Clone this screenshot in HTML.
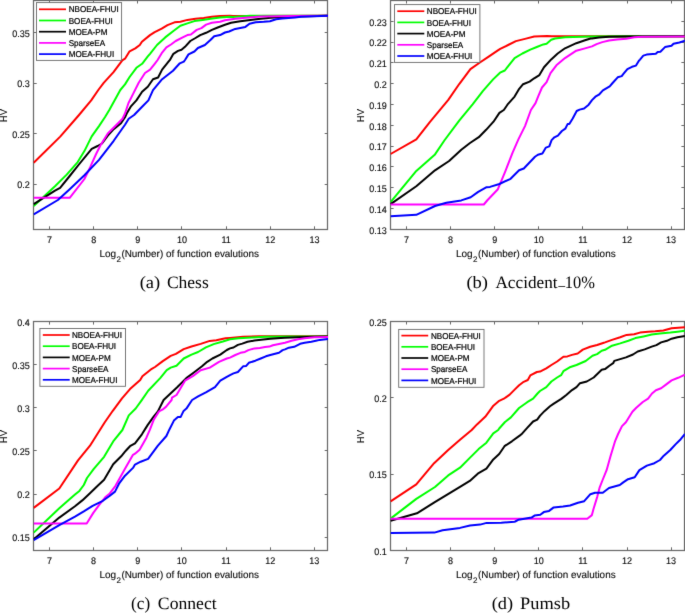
<!DOCTYPE html>
<html><head><meta charset="utf-8"><style>
html,body{margin:0;padding:0;background:#fff;}
body{width:685px;height:613px;overflow:hidden;}
svg{display:block;will-change:transform;}
text{text-rendering:geometricPrecision;}
.t{font-family:"Liberation Sans",sans-serif;fill:#0a0a0a;stroke:#0a0a0a;stroke-width:0.12px;}
.k{stroke-width:0.14px;}
.lg{stroke-width:0.22px;fill:#000;stroke:#000;}
.s{font-family:"Liberation Serif",serif;fill:#000;}
</style></head><body>
<svg width="685" height="613" viewBox="0 0 685 613">
<defs><filter id="sf" x="0" y="0" width="685" height="613" filterUnits="userSpaceOnUse" color-interpolation-filters="sRGB"><feConvolveMatrix order="3" kernelMatrix="0.01 0.1 0.01 0.1 1 0.1 0.01 0.1 0.01" edgeMode="duplicate"/></filter></defs>
<g filter="url(#sf)">
<rect width="685" height="613" fill="#fff"/>

<rect x="33.5" y="0.5" width="294" height="229" fill="none" stroke="#6a6a6a" stroke-width="1.25"/>
<path d="M49.5 229.3V226.3M49.5 0.5V3.5" stroke="#6a6a6a" stroke-width="1"/>
<text class="t k" transform="translate(49.5 243.4) scale(0.94 1)" font-size="9.6" text-anchor="middle">7</text>
<path d="M93.5 229.3V226.3M93.5 0.5V3.5" stroke="#6a6a6a" stroke-width="1"/>
<text class="t k" transform="translate(93.65 243.4) scale(0.94 1)" font-size="9.6" text-anchor="middle">8</text>
<path d="M137.5 229.3V226.3M137.5 0.5V3.5" stroke="#6a6a6a" stroke-width="1"/>
<text class="t k" transform="translate(137.8 243.4) scale(0.94 1)" font-size="9.6" text-anchor="middle">9</text>
<path d="M181.5 229.3V226.3M181.5 0.5V3.5" stroke="#6a6a6a" stroke-width="1"/>
<text class="t k" transform="translate(181.95 243.4) scale(0.94 1)" font-size="9.6" text-anchor="middle">10</text>
<path d="M226.5 229.3V226.3M226.5 0.5V3.5" stroke="#6a6a6a" stroke-width="1"/>
<text class="t k" transform="translate(226.1 243.4) scale(0.94 1)" font-size="9.6" text-anchor="middle">11</text>
<path d="M270.5 229.3V226.3M270.5 0.5V3.5" stroke="#6a6a6a" stroke-width="1"/>
<text class="t k" transform="translate(270.25 243.4) scale(0.94 1)" font-size="9.6" text-anchor="middle">12</text>
<path d="M314.5 229.3V226.3M314.5 0.5V3.5" stroke="#6a6a6a" stroke-width="1"/>
<text class="t k" transform="translate(314.4 243.4) scale(0.94 1)" font-size="9.6" text-anchor="middle">13</text>
<path d="M33.7 184.5H36.7M327.7 184.5H324.7" stroke="#6a6a6a" stroke-width="1"/>
<text class="t k" transform="translate(29.8 188.4) scale(0.94 1)" font-size="9.6" text-anchor="end">0.2</text>
<path d="M33.7 133.5H36.7M327.7 133.5H324.7" stroke="#6a6a6a" stroke-width="1"/>
<text class="t k" transform="translate(29.8 137.9) scale(0.94 1)" font-size="9.6" text-anchor="end">0.25</text>
<path d="M33.7 83.5H36.7M327.7 83.5H324.7" stroke="#6a6a6a" stroke-width="1"/>
<text class="t k" transform="translate(29.8 87.3) scale(0.94 1)" font-size="9.6" text-anchor="end">0.3</text>
<path d="M33.7 32.5H36.7M327.7 32.5H324.7" stroke="#6a6a6a" stroke-width="1"/>
<text class="t k" transform="translate(29.8 36.8) scale(0.94 1)" font-size="9.6" text-anchor="end">0.35</text>
<clipPath id="ca"><rect x="33.4" y="0.5" width="294.7" height="228.8"/></clipPath>
<g clip-path="url(#ca)" fill="none" stroke-width="2.0" stroke-linejoin="round" stroke-linecap="butt">
<polyline stroke="#ff0000" points="33.7,162.8 60.2,136.6 79,115 91.2,100.4 98.3,90 103.7,82.9 113.5,72.1 122.3,60.3 125,58.7 129.6,51.3 135.3,48.4 139.8,45 141.9,41.7 150,35.1 154.7,32.2 161.7,28.7 167.5,25.2 174.5,22.3 180.4,21.7 187.4,19.9 195.5,18.8 203.7,17.9 211.9,16.8 220.1,16.1 230,15.8 233,15.9 328,15.8"/>
<polyline stroke="#00ff00" points="33.7,206 55,186.3 66.7,174.6 77.7,162.1 84.4,151.1 91.7,136.4 99,126.1 104.9,117.3 109.3,110 120.3,90 125,84.4 129.6,77 136.4,67.8 142.1,63.8 147.8,56.4 150,53.8 157,45 165.2,37.4 173.4,31 180.4,25.8 187.4,23.4 194.4,21.1 202.6,19.9 210.7,18.8 220.1,17.6 230,16.8 233,16.9 249.9,15.8 328,15.8"/>
<polyline stroke="#000000" points="33.7,204.1 55,190.7 60.1,187.8 69.7,176 78.5,165 91.7,148.9 97.6,146 102,143.5 107.8,135.7 113.7,129.1 121,123.2 125,117.3 126.7,113.5 130.7,106.7 136.4,100.4 142.1,91.8 147.8,86.7 153,79.3 158.1,77.5 162.1,69.6 169.5,60.4 169.9,60 173.4,53.8 178,50.9 181.5,49.7 185,46.8 190.3,41 195.5,38 200.2,35.1 206.1,32.8 211.9,29.9 217.7,27.5 225,24.8 231.1,22.8 240.3,21.2 250.5,20 260.8,18.7 271,17.7 281.2,16.9 295,16.4 328,15.8"/>
<polyline stroke="#ff00ff" points="33.7,197.8 69.7,197.8 84.4,179 90.2,167.2 96.1,154 100.5,145.2 107.8,133.5 116.6,124.7 122.5,118.8 125,113.5 128.4,103.2 133,94.1 138.7,82.7 145,73 150.1,69.6 154.7,63.8 157.6,60 161.7,53.2 166.4,47.4 171,44.5 175.7,41 182.7,37.4 187.4,35.1 190.9,34.5 196.7,29.9 201.4,28.1 206.1,24.6 211.9,22.8 220.1,21.7 225,20.2 235.2,18.7 245.4,17.7 260.8,16.6 295,15.9 328,15.8"/>
<polyline stroke="#0000ff" points="33.7,214.4 57.9,200 69.7,189.2 84.4,175.3 99,159.9 113.7,140.8 125,124.7 128.7,118.8 134.1,115 142.1,106.7 148.4,100.4 153,90.1 161.5,79.8 173,70.7 179.8,63.3 183.8,61.6 185,60 188.5,54.4 194.4,51.5 197.9,48 204.9,45 210.7,39.8 214.2,36.3 220.1,35.1 225,32.5 229.1,31.5 235.2,28.9 240.3,27.9 245.4,26.9 249.5,23.8 255.7,22.3 263.8,21.8 270,21.2 276.1,19.2 282.2,18.4 295,17.4 301,16.8 328,15.8"/>
</g>
<text class="t" transform="translate(6.9 115.6) rotate(-90) scale(0.94 1)" font-size="10" text-anchor="middle">HV</text>
<text class="t" x="99.4" y="257.1" font-size="10">Log</text>
<text class="t" x="116.4" y="261.9" font-size="8">2</text>
<text class="t" x="121.4" y="257.1" font-size="10" textLength="137.6" lengthAdjust="spacingAndGlyphs">(Number) of function evalutions</text>
<rect x="36.5" y="2.6" width="85.1" height="57.8" fill="#fff" stroke="#6a6a6a" stroke-width="0.9"/>
<path d="M39 9.3H66" stroke="#ff0000" stroke-width="1.7"/>
<text class="t lg" transform="translate(68.7 12.4) scale(0.953 1)" font-size="8.5">NBOEA-FHUI</text>
<path d="M39 20.5H66" stroke="#00ff00" stroke-width="1.7"/>
<text class="t lg" transform="translate(68.7 23.6) scale(0.953 1)" font-size="8.5">BOEA-FHUI</text>
<path d="M39 31.7H66" stroke="#000000" stroke-width="1.7"/>
<text class="t lg" transform="translate(68.7 34.8) scale(0.953 1)" font-size="8.5">MOEA-PM</text>
<path d="M39 42.9H66" stroke="#ff00ff" stroke-width="1.7"/>
<text class="t lg" transform="translate(68.7 46) scale(0.953 1)" font-size="8.5">SparseEA</text>
<path d="M39 54.1H66" stroke="#0000ff" stroke-width="1.7"/>
<text class="t lg" transform="translate(68.7 57.2) scale(0.953 1)" font-size="8.5">MOEA-FHUI</text>
<text class="s" x="139.66" y="287.6" font-size="17.4" textLength="20.58" lengthAdjust="spacingAndGlyphs">(a)</text>
<text class="s" x="166.90" y="287.6" font-size="17.4" textLength="41.89" lengthAdjust="spacingAndGlyphs">Chess</text>
<rect x="390.5" y="0.5" width="294" height="229" fill="none" stroke="#6a6a6a" stroke-width="1.25"/>
<path d="M406.5 229.3V226.3M406.5 0.5V3.5" stroke="#6a6a6a" stroke-width="1"/>
<text class="t k" transform="translate(406.5 243.4) scale(0.94 1)" font-size="9.6" text-anchor="middle">7</text>
<path d="M450.5 229.3V226.3M450.5 0.5V3.5" stroke="#6a6a6a" stroke-width="1"/>
<text class="t k" transform="translate(450.6 243.4) scale(0.94 1)" font-size="9.6" text-anchor="middle">8</text>
<path d="M494.5 229.3V226.3M494.5 0.5V3.5" stroke="#6a6a6a" stroke-width="1"/>
<text class="t k" transform="translate(494.7 243.4) scale(0.94 1)" font-size="9.6" text-anchor="middle">9</text>
<path d="M538.5 229.3V226.3M538.5 0.5V3.5" stroke="#6a6a6a" stroke-width="1"/>
<text class="t k" transform="translate(538.8 243.4) scale(0.94 1)" font-size="9.6" text-anchor="middle">10</text>
<path d="M582.5 229.3V226.3M582.5 0.5V3.5" stroke="#6a6a6a" stroke-width="1"/>
<text class="t k" transform="translate(582.9 243.4) scale(0.94 1)" font-size="9.6" text-anchor="middle">11</text>
<path d="M627.5 229.3V226.3M627.5 0.5V3.5" stroke="#6a6a6a" stroke-width="1"/>
<text class="t k" transform="translate(627 243.4) scale(0.94 1)" font-size="9.6" text-anchor="middle">12</text>
<path d="M671.5 229.3V226.3M671.5 0.5V3.5" stroke="#6a6a6a" stroke-width="1"/>
<text class="t k" transform="translate(671.1 243.4) scale(0.94 1)" font-size="9.6" text-anchor="middle">13</text>
<path d="M390.6 229.5H393.6M684.4 229.5H681.4" stroke="#6a6a6a" stroke-width="1"/>
<text class="t k" transform="translate(386.7 233.5) scale(0.94 1)" font-size="9.6" text-anchor="end">0.13</text>
<path d="M390.6 208.5H393.6M684.4 208.5H681.4" stroke="#6a6a6a" stroke-width="1"/>
<text class="t k" transform="translate(386.7 212.7) scale(0.94 1)" font-size="9.6" text-anchor="end">0.14</text>
<path d="M390.6 187.5H393.6M684.4 187.5H681.4" stroke="#6a6a6a" stroke-width="1"/>
<text class="t k" transform="translate(386.7 191.9) scale(0.94 1)" font-size="9.6" text-anchor="end">0.15</text>
<path d="M390.6 166.5H393.6M684.4 166.5H681.4" stroke="#6a6a6a" stroke-width="1"/>
<text class="t k" transform="translate(386.7 171.1) scale(0.94 1)" font-size="9.6" text-anchor="end">0.16</text>
<path d="M390.6 146.5H393.6M684.4 146.5H681.4" stroke="#6a6a6a" stroke-width="1"/>
<text class="t k" transform="translate(386.7 150.3) scale(0.94 1)" font-size="9.6" text-anchor="end">0.17</text>
<path d="M390.6 125.5H393.6M684.4 125.5H681.4" stroke="#6a6a6a" stroke-width="1"/>
<text class="t k" transform="translate(386.7 129.5) scale(0.94 1)" font-size="9.6" text-anchor="end">0.18</text>
<path d="M390.6 104.5H393.6M684.4 104.5H681.4" stroke="#6a6a6a" stroke-width="1"/>
<text class="t k" transform="translate(386.7 108.7) scale(0.94 1)" font-size="9.6" text-anchor="end">0.19</text>
<path d="M390.6 83.5H393.6M684.4 83.5H681.4" stroke="#6a6a6a" stroke-width="1"/>
<text class="t k" transform="translate(386.7 87.9) scale(0.94 1)" font-size="9.6" text-anchor="end">0.2</text>
<path d="M390.6 62.5H393.6M684.4 62.5H681.4" stroke="#6a6a6a" stroke-width="1"/>
<text class="t k" transform="translate(386.7 67.1) scale(0.94 1)" font-size="9.6" text-anchor="end">0.21</text>
<path d="M390.6 42.5H393.6M684.4 42.5H681.4" stroke="#6a6a6a" stroke-width="1"/>
<text class="t k" transform="translate(386.7 46.3) scale(0.94 1)" font-size="9.6" text-anchor="end">0.22</text>
<path d="M390.6 21.5H393.6M684.4 21.5H681.4" stroke="#6a6a6a" stroke-width="1"/>
<text class="t k" transform="translate(386.7 25.5) scale(0.94 1)" font-size="9.6" text-anchor="end">0.23</text>
<clipPath id="cb"><rect x="390.3" y="0.5" width="294.5" height="228.8"/></clipPath>
<g clip-path="url(#cb)" fill="none" stroke-width="2.0" stroke-linejoin="round" stroke-linecap="butt">
<polyline stroke="#ff0000" points="390.6,154 416.3,139.4 430,121.9 448.3,99.9 459.4,83.8 470.4,69.1 479.9,62.5 488.7,56.6 497.5,50.7 500.2,48.9 508.1,45 515.9,41.1 525,38.9 534.2,36.5 547.2,36.1 551.9,36.2 685,36.2"/>
<polyline stroke="#00ff00" points="390.6,202.2 416.3,170.9 435,154.4 444.7,140 459.4,120.4 472.6,104.3 482.8,91.1 493.1,79.4 500,72.7 504.8,70.5 509.4,64.6 514.6,58.1 522.4,53.5 530.3,49.6 536.8,47 543.3,44.4 546.6,43.7 551.2,39.8 555.1,38.5 565,37.2 590,36.6 620,36.2 685,36.2"/>
<polyline stroke="#000000" points="390.6,204.1 416.3,186.3 435,170.3 449.1,161 461.3,149.7 470,143 478.8,137.2 486.1,129.8 493.5,121.7 499.4,112.9 503.8,110 508.1,103.8 514.6,96.6 519.2,88.8 523.1,84.2 529.6,81.6 534.2,78.3 539.4,75.1 544,67.2 551.2,59.4 557.7,53.5 565,48.3 576.3,43.2 585,40.3 590.6,38.5 592,38.4 598.9,37.5 609.1,36.7 626.3,36.4 685,36.3"/>
<polyline stroke="#ff00ff" points="390.6,204.5 483.8,204.5 487.6,200 497.9,189.2 505.2,171.6 512.6,152.6 518.4,139.4 525,126.1 530.9,110 535.5,103.1 538.1,96.6 542,87.5 546.6,82.2 550.5,73.1 556.4,65.3 565,58.1 576.3,50.7 585,48.4 592,46.4 596.6,44.1 602.3,42.1 609.1,40.5 617.1,39.6 626.3,38.7 634.3,37.3 642.3,36.7 685,36.6"/>
<polyline stroke="#0000ff" points="390.6,216.3 416.3,214.8 435,206 446.3,202.8 461.3,200.4 470.7,197.2 478.2,191.9 486.6,187.2 490,186.9 499.4,184 510.6,178.8 519.1,170.3 523.8,168.5 535,156.7 537.9,154.7 542.4,153.5 545.9,147.6 549.3,146.4 551.6,140.1 554.4,137.3 557.9,135.6 561.9,131 565.3,128.7 567.6,124.1 569.3,124.1 572.7,118.4 576.7,111 579.6,109.6 584.1,108.5 588.7,104.7 592,100.1 595.4,96.7 598.9,94.7 602.9,90.4 609.7,86.4 612.6,83 617.7,77.3 621.7,76.1 623.4,73.9 627.4,69.1 632,66.8 636,65.6 638.9,60.7 640,59.6 643.3,55.6 646.6,54.6 655.8,53.7 657.7,52 660.4,51.7 665,47.1 671.5,45.8 673.5,43.8 679.4,42.5 685,40.8"/>
</g>
<text class="t" transform="translate(363.6 115.6) rotate(-90) scale(0.94 1)" font-size="10" text-anchor="middle">HV</text>
<text class="t" x="456" y="257.1" font-size="10">Log</text>
<text class="t" x="473" y="261.9" font-size="8">2</text>
<text class="t" x="478" y="257.1" font-size="10" textLength="137.6" lengthAdjust="spacingAndGlyphs">(Number) of function evalutions</text>
<rect x="394.5" y="4.6" width="85.4" height="57.8" fill="#fff" stroke="#6a6a6a" stroke-width="0.9"/>
<path d="M397.3 11.2H424.3" stroke="#ff0000" stroke-width="1.7"/>
<text class="t lg" transform="translate(426.8 14.3) scale(0.953 1)" font-size="8.5">NBOEA-FHUI</text>
<path d="M397.3 22.4H424.3" stroke="#00ff00" stroke-width="1.7"/>
<text class="t lg" transform="translate(426.8 25.5) scale(0.953 1)" font-size="8.5">BOEA-FHUI</text>
<path d="M397.3 33.6H424.3" stroke="#000000" stroke-width="1.7"/>
<text class="t lg" transform="translate(426.8 36.7) scale(0.953 1)" font-size="8.5">MOEA-PM</text>
<path d="M397.3 44.8H424.3" stroke="#ff00ff" stroke-width="1.7"/>
<text class="t lg" transform="translate(426.8 47.9) scale(0.953 1)" font-size="8.5">SparseEA</text>
<path d="M397.3 56H424.3" stroke="#0000ff" stroke-width="1.7"/>
<text class="t lg" transform="translate(426.8 59.1) scale(0.953 1)" font-size="8.5">MOEA-FHUI</text>
<text class="s" x="466.46" y="287.5" font-size="17.4" textLength="21.59" lengthAdjust="spacingAndGlyphs">(b)</text>
<text class="s" x="495.43" y="287.5" font-size="17.4" textLength="62.13" lengthAdjust="spacingAndGlyphs">Accident</text>
<text class="s" x="564.82" y="287.5" font-size="17.4" textLength="30.12" lengthAdjust="spacingAndGlyphs">10%</text>
<rect x="558.3" y="286.2" width="6.9" height="0.75" fill="#000"/>
<rect x="33.5" y="321.5" width="294" height="229" fill="none" stroke="#6a6a6a" stroke-width="1.25"/>
<path d="M49.5 550.3V547.3M49.5 321.6V324.6" stroke="#6a6a6a" stroke-width="1"/>
<text class="t k" transform="translate(49.4 564.4) scale(0.94 1)" font-size="9.6" text-anchor="middle">7</text>
<path d="M93.5 550.3V547.3M93.5 321.6V324.6" stroke="#6a6a6a" stroke-width="1"/>
<text class="t k" transform="translate(93.55 564.4) scale(0.94 1)" font-size="9.6" text-anchor="middle">8</text>
<path d="M137.5 550.3V547.3M137.5 321.6V324.6" stroke="#6a6a6a" stroke-width="1"/>
<text class="t k" transform="translate(137.7 564.4) scale(0.94 1)" font-size="9.6" text-anchor="middle">9</text>
<path d="M181.5 550.3V547.3M181.5 321.6V324.6" stroke="#6a6a6a" stroke-width="1"/>
<text class="t k" transform="translate(181.85 564.4) scale(0.94 1)" font-size="9.6" text-anchor="middle">10</text>
<path d="M226.5 550.3V547.3M226.5 321.6V324.6" stroke="#6a6a6a" stroke-width="1"/>
<text class="t k" transform="translate(226 564.4) scale(0.94 1)" font-size="9.6" text-anchor="middle">11</text>
<path d="M270.5 550.3V547.3M270.5 321.6V324.6" stroke="#6a6a6a" stroke-width="1"/>
<text class="t k" transform="translate(270.15 564.4) scale(0.94 1)" font-size="9.6" text-anchor="middle">12</text>
<path d="M314.5 550.3V547.3M314.5 321.6V324.6" stroke="#6a6a6a" stroke-width="1"/>
<text class="t k" transform="translate(314.3 564.4) scale(0.94 1)" font-size="9.6" text-anchor="middle">13</text>
<path d="M33.7 321.5H36.7M327.7 321.5H324.7" stroke="#6a6a6a" stroke-width="1"/>
<text class="t k" transform="translate(29.8 325.8) scale(0.94 1)" font-size="9.6" text-anchor="end">0.4</text>
<path d="M33.7 364.5H36.7M327.7 364.5H324.7" stroke="#6a6a6a" stroke-width="1"/>
<text class="t k" transform="translate(29.8 368.9) scale(0.94 1)" font-size="9.6" text-anchor="end">0.35</text>
<path d="M33.7 407.5H36.7M327.7 407.5H324.7" stroke="#6a6a6a" stroke-width="1"/>
<text class="t k" transform="translate(29.8 412) scale(0.94 1)" font-size="9.6" text-anchor="end">0.3</text>
<path d="M33.7 450.5H36.7M327.7 450.5H324.7" stroke="#6a6a6a" stroke-width="1"/>
<text class="t k" transform="translate(29.8 455.1) scale(0.94 1)" font-size="9.6" text-anchor="end">0.25</text>
<path d="M33.7 494.5H36.7M327.7 494.5H324.7" stroke="#6a6a6a" stroke-width="1"/>
<text class="t k" transform="translate(29.8 498.2) scale(0.94 1)" font-size="9.6" text-anchor="end">0.2</text>
<path d="M33.7 537.5H36.7M327.7 537.5H324.7" stroke="#6a6a6a" stroke-width="1"/>
<text class="t k" transform="translate(29.8 541.3) scale(0.94 1)" font-size="9.6" text-anchor="end">0.15</text>
<clipPath id="cc"><rect x="33.4" y="321.6" width="294.7" height="228.7"/></clipPath>
<g clip-path="url(#cc)" fill="none" stroke-width="2.0" stroke-linejoin="round" stroke-linecap="butt">
<polyline stroke="#ff0000" points="33.7,507.9 59.3,488.5 78,460.4 90,445.7 96.9,434.8 104.8,422.3 112.8,410.8 122,398.3 130,389.1 140.2,380 142.4,376.3 151.8,368.8 155,367 162.8,361.1 170.7,355.9 175.9,353.9 183.7,349.1 191.5,346.5 200.7,343.9 209.8,340.9 216.3,340.2 225.5,338.3 230,337.9 243.1,336.7 258.9,336.3 328,336.3"/>
<polyline stroke="#00ff00" points="33.7,532.6 59.3,508.2 68.7,500 75,494.5 79.4,490.9 83.8,485 87,478 93.8,468.8 104.1,456.8 113.2,441.4 122.4,430 128.8,415.4 135.7,408.5 141.4,400.6 148.2,390.8 160.2,378.1 166.7,370.2 170.7,367.6 176.5,365.7 183.7,358.5 191.5,354.6 198.1,352 205.9,347.4 213.7,344.1 222.9,341.5 230,339.2 238.8,338.3 251.9,337.4 265,336.8 290,336.6 328,336.5"/>
<polyline stroke="#000000" points="33.7,539.2 59.3,517.6 75,506.3 82.3,500.4 89.7,493.4 98.5,485 104.1,479.7 113.2,464.3 121.2,456.3 125,451.7 126.5,450 130,446.2 135,443.4 141.9,434.3 147.6,425.1 153.3,417.1 157.9,411.4 163.6,400 168.1,395.7 177.2,387.2 186.3,378.1 194.2,372.2 202,366.3 207.2,361.8 212.4,358.5 220.3,354.6 226.8,350 230,348.4 233.5,347.5 237.9,344.9 242.3,343.6 247.5,341.8 254.5,340.5 263.3,339.6 270.3,338.8 280.8,337.9 285,337.8 298.1,337.2 314.6,336.7 328,336.6"/>
<polyline stroke="#ff00ff" points="33.7,523.5 86.7,523.5 93.3,512.9 99.2,504.8 105.8,496.7 109.8,493.4 115.5,485.8 125,468.8 133,454.8 135,453.7 139.6,449.7 146.4,437.7 149.9,429.7 153.9,419.4 159,411.4 162.4,409.7 165.9,406.9 171.6,400 172,397.6 176.5,395 185,380.7 192.8,376.1 200.7,370.2 209.8,367.6 219,361.8 226.8,358.5 230,357.6 235.3,355 240.5,352.8 244.9,351.9 248.4,350.1 254.5,348.4 259.8,348 265,347.1 269.4,346.6 272.9,345.3 279,344 285,342.8 291.6,340.8 298.1,339.2 304.7,338.2 314.6,337.2 328,336.9"/>
<polyline stroke="#0000ff" points="33.7,540.1 59.3,525.1 75,516.6 83.8,511.4 92.6,505.9 102.9,500.8 109.5,496 115,491.6 119,483.7 125,475.7 133,467.9 135,464.6 140.7,461.7 148.1,458.9 157.9,445.7 166.4,436 169.3,429.7 173.9,420.6 177.9,417.1 180.7,416.9 183.6,410.9 186.4,408.6 192.1,400 198.1,396.4 205.9,392.4 215,387.2 220.3,380.7 226.8,376.8 230,375.1 233.5,373.4 237.9,372 243.1,366.3 246.2,365.9 248.8,362.8 255.4,360.7 260.7,358.5 265.9,356.3 270.3,355 279,352.8 282.6,350.1 285,349.4 288.9,347.7 294.2,346.8 300.1,343.8 304.7,342.8 311.3,341.8 315.9,340.8 319.8,339.9 328,339.1"/>
</g>
<text class="t" transform="translate(6.9 436.6) rotate(-90) scale(0.94 1)" font-size="10" text-anchor="middle">HV</text>
<text class="t" x="99.4" y="578.4" font-size="10">Log</text>
<text class="t" x="116.4" y="583.2" font-size="8">2</text>
<text class="t" x="121.4" y="578.4" font-size="10" textLength="137.6" lengthAdjust="spacingAndGlyphs">(Number) of function evalutions</text>
<rect x="39.9" y="328.5" width="85.6" height="57.8" fill="#fff" stroke="#6a6a6a" stroke-width="0.9"/>
<path d="M42.8 335H69.7" stroke="#ff0000" stroke-width="1.7"/>
<text class="t lg" transform="translate(72 338.1) scale(0.953 1)" font-size="8.5">NBOEA-FHUI</text>
<path d="M42.8 346.2H69.7" stroke="#00ff00" stroke-width="1.7"/>
<text class="t lg" transform="translate(72 349.3) scale(0.953 1)" font-size="8.5">BOEA-FHUI</text>
<path d="M42.8 357.4H69.7" stroke="#000000" stroke-width="1.7"/>
<text class="t lg" transform="translate(72 360.5) scale(0.953 1)" font-size="8.5">MOEA-PM</text>
<path d="M42.8 368.6H69.7" stroke="#ff00ff" stroke-width="1.7"/>
<text class="t lg" transform="translate(72 371.7) scale(0.953 1)" font-size="8.5">SparseEA</text>
<path d="M42.8 379.8H69.7" stroke="#0000ff" stroke-width="1.7"/>
<text class="t lg" transform="translate(72 382.9) scale(0.953 1)" font-size="8.5">MOEA-FHUI</text>
<text class="s" x="131.11" y="608.7" font-size="17.4" textLength="19.07" lengthAdjust="spacingAndGlyphs">(c)</text>
<text class="s" x="157.89" y="608.7" font-size="17.4" textLength="58.75" lengthAdjust="spacingAndGlyphs">Connect</text>
<rect x="390.5" y="321.5" width="294" height="229" fill="none" stroke="#6a6a6a" stroke-width="1.25"/>
<path d="M406.5 550.3V547.3M406.5 321.5V324.5" stroke="#6a6a6a" stroke-width="1"/>
<text class="t k" transform="translate(406.5 564.4) scale(0.94 1)" font-size="9.6" text-anchor="middle">7</text>
<path d="M450.5 550.3V547.3M450.5 321.5V324.5" stroke="#6a6a6a" stroke-width="1"/>
<text class="t k" transform="translate(450.6 564.4) scale(0.94 1)" font-size="9.6" text-anchor="middle">8</text>
<path d="M494.5 550.3V547.3M494.5 321.5V324.5" stroke="#6a6a6a" stroke-width="1"/>
<text class="t k" transform="translate(494.7 564.4) scale(0.94 1)" font-size="9.6" text-anchor="middle">9</text>
<path d="M538.5 550.3V547.3M538.5 321.5V324.5" stroke="#6a6a6a" stroke-width="1"/>
<text class="t k" transform="translate(538.8 564.4) scale(0.94 1)" font-size="9.6" text-anchor="middle">10</text>
<path d="M582.5 550.3V547.3M582.5 321.5V324.5" stroke="#6a6a6a" stroke-width="1"/>
<text class="t k" transform="translate(582.9 564.4) scale(0.94 1)" font-size="9.6" text-anchor="middle">11</text>
<path d="M627.5 550.3V547.3M627.5 321.5V324.5" stroke="#6a6a6a" stroke-width="1"/>
<text class="t k" transform="translate(627 564.4) scale(0.94 1)" font-size="9.6" text-anchor="middle">12</text>
<path d="M671.5 550.3V547.3M671.5 321.5V324.5" stroke="#6a6a6a" stroke-width="1"/>
<text class="t k" transform="translate(671.1 564.4) scale(0.94 1)" font-size="9.6" text-anchor="middle">13</text>
<path d="M390.6 321.5H393.6M684.4 321.5H681.4" stroke="#6a6a6a" stroke-width="1"/>
<text class="t k" transform="translate(386.7 325.7) scale(0.94 1)" font-size="9.6" text-anchor="end">0.25</text>
<path d="M390.6 397.5H393.6M684.4 397.5H681.4" stroke="#6a6a6a" stroke-width="1"/>
<text class="t k" transform="translate(386.7 402) scale(0.94 1)" font-size="9.6" text-anchor="end">0.2</text>
<path d="M390.6 474.5H393.6M684.4 474.5H681.4" stroke="#6a6a6a" stroke-width="1"/>
<text class="t k" transform="translate(386.7 478.2) scale(0.94 1)" font-size="9.6" text-anchor="end">0.15</text>
<path d="M390.6 550.5H393.6M684.4 550.5H681.4" stroke="#6a6a6a" stroke-width="1"/>
<text class="t k" transform="translate(386.7 554.5) scale(0.94 1)" font-size="9.6" text-anchor="end">0.1</text>
<clipPath id="cd"><rect x="390.3" y="321.5" width="294.5" height="228.8"/></clipPath>
<g clip-path="url(#cd)" fill="none" stroke-width="2.0" stroke-linejoin="round" stroke-linecap="butt">
<polyline stroke="#ff0000" points="390.6,501.3 416.3,484.4 434.1,463.2 448.2,450.1 460,439.8 471.7,430 477,424.4 485.2,416.8 488.7,412.1 493.4,405.7 499.2,400.8 503.9,398.7 509.7,394.6 514.4,389.9 519.1,385.3 523.7,381.8 527.8,380 530.3,375.4 536.9,372 540,371.6 546.3,368.4 551.4,365 557.1,361.5 563.4,356.7 567.4,356.4 572,354.9 577.7,353.5 582.8,349.6 590.2,346.7 597.1,345 603.9,342.7 605,342.4 612,339.9 620.2,337.3 626.6,334.9 634.2,334.2 640,332.6 648.2,331.7 655.2,331.3 663.4,330.5 671.6,328.2 685,327.2"/>
<polyline stroke="#00ff00" points="390.6,518.6 416.3,498.9 435,487 448.2,475.4 460,467.7 469.8,457.9 478.6,449.1 486.4,442.7 493.3,433.4 498.2,430 499.2,428.5 505,422 510.9,417.4 519.1,408 527.2,402.2 533.1,398.7 537.5,393.5 540,391 546.3,387.2 551.4,381.5 557.1,377.5 561.1,375.2 563.4,371.2 569.7,367.3 576.5,365 585.7,361 592.5,355.8 597.1,354.1 601.7,350.7 605,349.8 612,345.7 620.2,343.4 628.4,340.8 635.4,338.1 643.5,336.4 651.7,334.6 659.9,333.4 670.4,332.6 677.4,331.7 685,330.7"/>
<polyline stroke="#000000" points="390.6,520.8 416.9,513.3 434.4,502.3 460,486.8 469.8,480.9 478.6,473.1 486.4,468.7 493.3,459.4 499.2,454 504.5,446.2 511.9,441.3 520,435.4 521.4,434.3 527.2,427.9 533.1,421.5 537.2,419.7 540.1,415.6 544.7,410.9 550,406.3 553.8,403.6 561.3,398.9 566.3,395 572,390.1 576.5,387.2 580,383.2 586.8,381.5 593.7,377.5 601.7,369.8 605,369.1 609.7,365.5 613.2,363.2 614.3,360.9 620.2,359.1 626,357.4 633,354.5 637.7,351.5 644.7,349.4 651.7,346.6 656.4,345.1 661.1,342.4 666.9,340.8 671.6,338.7 677.4,337.3 685,336.1"/>
<polyline stroke="#ff00ff" points="390.6,518.8 587.3,518.8 591.9,515.1 593.5,509 597.3,496.6 599.7,487.3 602.8,479.5 606.6,470.2 610.5,456.3 615.2,440.8 618.1,434 622,426.1 625.9,422.2 632.4,411.8 636.3,407.8 642.8,402 648.1,398.7 652,393.5 655.9,390.2 661.1,388.3 666.3,384.4 671.6,380.4 678.1,377.8 685,374.6"/>
<polyline stroke="#0000ff" points="390.6,533.1 434.4,532.6 442.6,530.2 460,527.9 470,525.5 480.1,524.6 486.6,522.9 501.3,522.7 514.4,521.7 515.2,521.5 518.7,519.7 531.5,517.6 534.5,515.6 540.3,514.8 543.8,512.1 549.1,510.9 553.7,507.4 563.1,506.6 570.1,505.5 578,502.8 584.2,501.2 590.4,494.2 595,492.7 602.8,492.7 609,488 619.8,485 622.9,482.6 628,479.2 634.7,477.3 639.4,470.1 646.9,465.6 654.4,463.2 660,460 663.8,455.7 670.3,450 675.5,444.4 680.7,439.2 685,434"/>
</g>
<text class="t" transform="translate(363.6 436.6) rotate(-90) scale(0.94 1)" font-size="10" text-anchor="middle">HV</text>
<text class="t" x="456" y="578.4" font-size="10">Log</text>
<text class="t" x="473" y="583.2" font-size="8">2</text>
<text class="t" x="478" y="578.4" font-size="10" textLength="137.6" lengthAdjust="spacingAndGlyphs">(Number) of function evalutions</text>
<rect x="398.7" y="329.4" width="85.3" height="57.9" fill="#fff" stroke="#6a6a6a" stroke-width="0.9"/>
<path d="M401.4 335.6H428.2" stroke="#ff0000" stroke-width="1.7"/>
<text class="t lg" transform="translate(430.9 338.7) scale(0.953 1)" font-size="8.5">NBOEA-FHUI</text>
<path d="M401.4 346.8H428.2" stroke="#00ff00" stroke-width="1.7"/>
<text class="t lg" transform="translate(430.9 349.9) scale(0.953 1)" font-size="8.5">BOEA-FHUI</text>
<path d="M401.4 358H428.2" stroke="#000000" stroke-width="1.7"/>
<text class="t lg" transform="translate(430.9 361.1) scale(0.953 1)" font-size="8.5">MOEA-PM</text>
<path d="M401.4 369.2H428.2" stroke="#ff00ff" stroke-width="1.7"/>
<text class="t lg" transform="translate(430.9 372.3) scale(0.953 1)" font-size="8.5">SparseEA</text>
<path d="M401.4 380.4H428.2" stroke="#0000ff" stroke-width="1.7"/>
<text class="t lg" transform="translate(430.9 383.5) scale(0.953 1)" font-size="8.5">MOEA-FHUI</text>
<text class="s" x="491.67" y="608.7" font-size="17.4" textLength="21.38" lengthAdjust="spacingAndGlyphs">(d)</text>
<text class="s" x="520.05" y="608.7" font-size="17.4" textLength="50.05" lengthAdjust="spacingAndGlyphs">Pumsb</text>
</g>
</svg>
</body></html>
